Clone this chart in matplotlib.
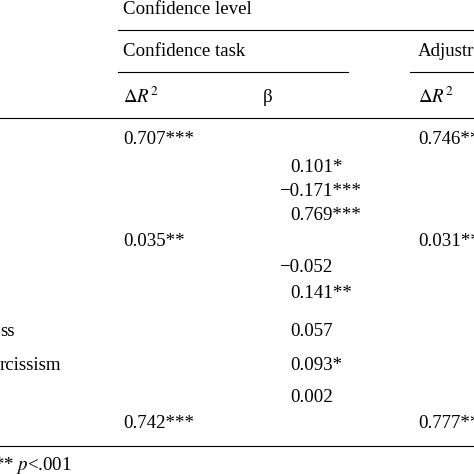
import matplotlib
matplotlib.use("Agg")
import matplotlib.pyplot as plt
from matplotlib.lines import Line2D

plt.rcParams['font.family'] = ['Liberation Serif', 'DejaVu Serif']
plt.rcParams['mathtext.fontset'] = 'stix'

row_y = [140, 168, 192, 216, 242, 268, 294, 331, 365, 397, 423]
row_labels = ["", "", "", "", "", "", "", "ss", "rcissism", "", ""]
dr2_task = ["0.707***", "", "", "", "0.035**", "", "", "", "", "", "0.742***"]
beta_task = ["", "0.101*", "\u22120.171***", "0.769***", "", "\u22120.052", "0.141**", "0.057", "0.093*", "0.002", ""]
dr2_adj = ["0.746**", "", "", "", "0.031**", "", "", "", "", "", "0.777**"]

W = H = 474
fig = plt.figure(figsize=(4.74, 4.74), dpi=100)
fs = 13.6

def t(x, y, s, **kw):
    fig.text(x / W, 1 - y / H, s, fontsize=fs, va='center', ha='left', **kw)

def hl(x0, x1, y):
    fig.add_artist(Line2D([x0 / W, x1 / W], [1 - y / H, 1 - y / H], color='black', lw=0.8))

t(123, 10, "Confidence level")
hl(118, 474, 30)
t(123, 52, "Confidence task")
t(418, 52, "Adjustr")
hl(118, 348, 72)
hl(410, 474, 72)
t(123, 97, r"$\Delta R^2$")
t(263, 97, "\u03b2")
t(418, 97, r"$\Delta R^2$")
hl(0, 474, 118)

for y, lab, a, b, c in zip(row_y, row_labels, dr2_task, beta_task, dr2_adj):
    if lab:
        t(0, y, lab)
    if a:
        t(123, y, a)
    if b:
        t(279 if b.startswith("\u2212") else 290, y, b)
    if c:
        t(418, y, c)

hl(0, 474, 446)
t(-6, 465, r"** $p$<.001")

fig.savefig("out.png", dpi=100)
